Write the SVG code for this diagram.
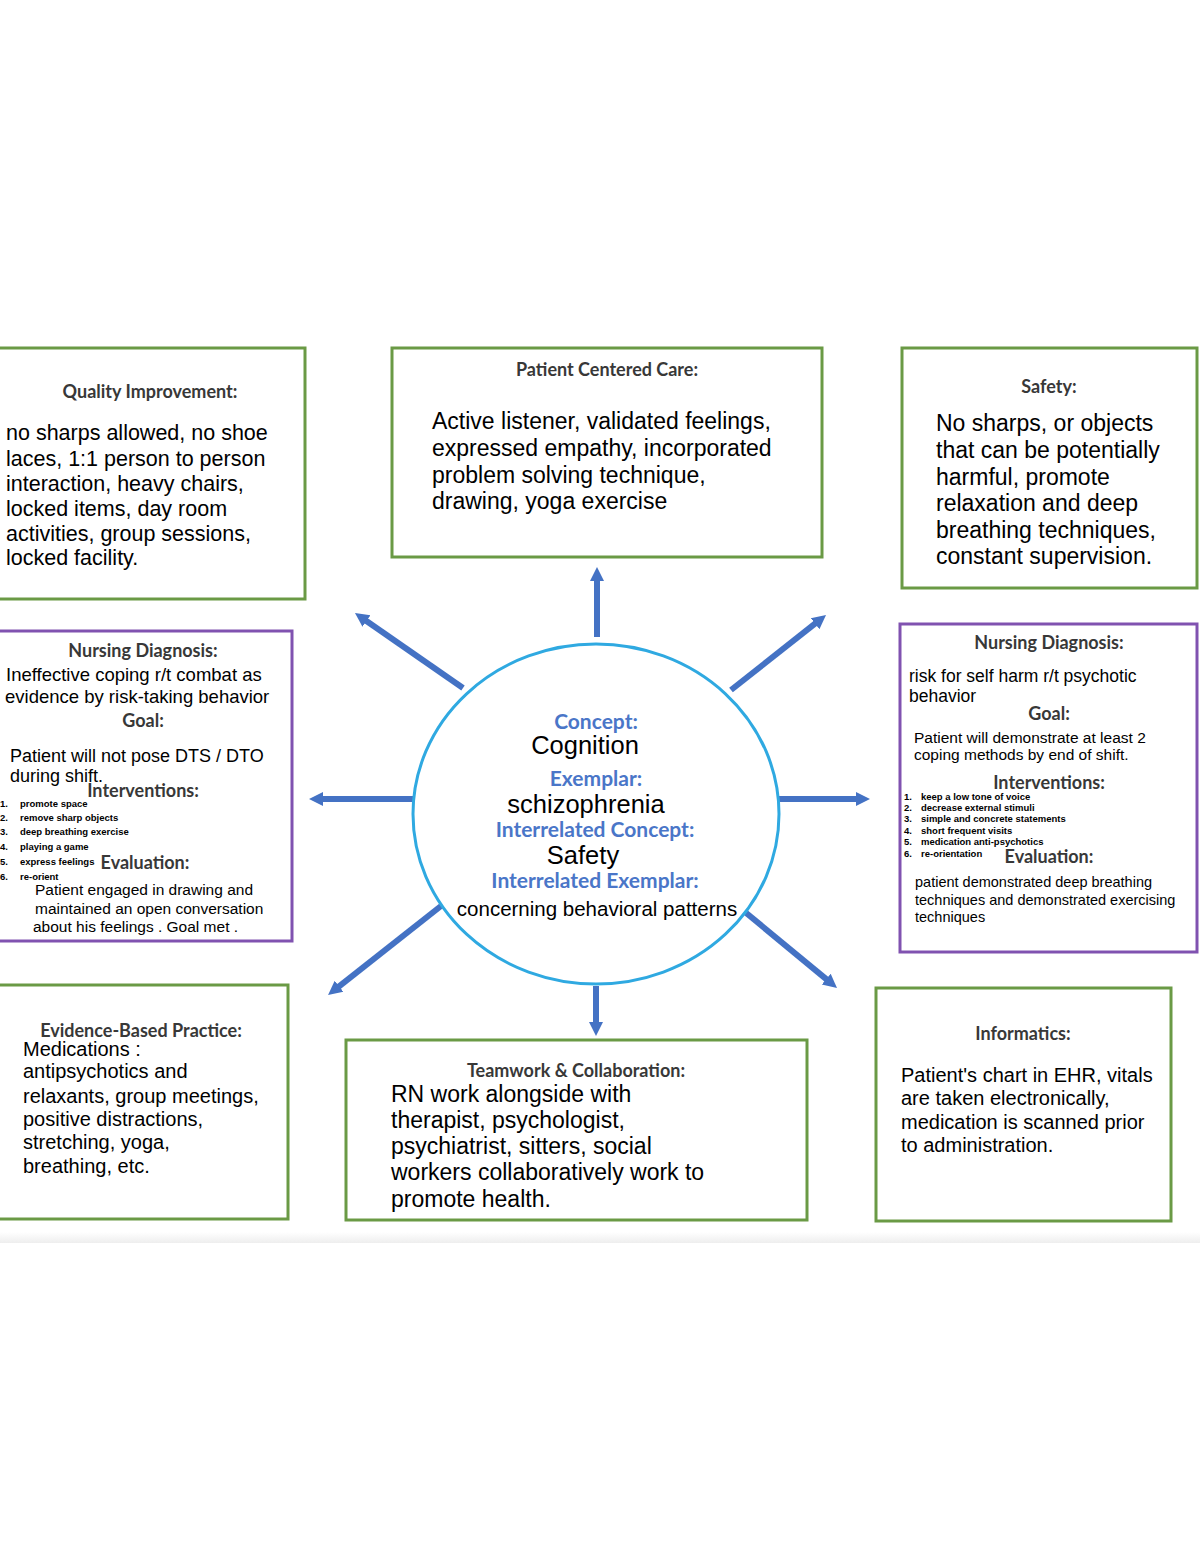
<svg xmlns="http://www.w3.org/2000/svg" width="1200" height="1551" viewBox="0 0 1200 1551">
<defs>
<style>
.gbox{fill:#ffffff;stroke:#6a9a45;stroke-width:3}
.pbox{fill:#ffffff;stroke:#8052b0;stroke-width:3}
.hd{font-family:Lato,"Liberation Sans",sans-serif;font-weight:700;fill:#383838;text-anchor:middle;font-size:18px}
.bd{font-family:"Liberation Sans",Arial,sans-serif;fill:#000000}
.bh{font-family:Lato,"Liberation Sans",sans-serif;font-weight:700;fill:#4a76c8;text-anchor:middle;font-size:21px}
.ct{font-family:"Liberation Sans",Arial,sans-serif;fill:#000000;text-anchor:middle}
.li{font-family:"Liberation Sans",Arial,sans-serif;font-weight:700;fill:#000000}
.arr{stroke:#4472c4;stroke-width:6;fill:none;marker-end:url(#ah)}
</style>
<marker id="ah" markerUnits="userSpaceOnUse" markerWidth="16" markerHeight="16" viewBox="0 0 16 16" refX="4" refY="8" orient="auto">
<path d="M0,1 L14,8 L0,15 z" fill="#4472c4"/>
</marker>
<linearGradient id="sh" x1="0" y1="0" x2="0" y2="1">
<stop offset="0" stop-color="#ffffff"/>
<stop offset="1" stop-color="#eeeeee"/>
</linearGradient>
</defs>
<rect x="0" y="0" width="1200" height="1551" fill="#ffffff"/>
<rect x="0" y="1232" width="1200" height="11" fill="url(#sh)"/>

<g id="connectors">
<line class="arr" x1="597" y1="637" x2="597" y2="577"/>
<line class="arr" x1="463" y1="688" x2="363.2" y2="618.7"/>
<line class="arr" x1="731" y1="690" x2="818.2" y2="621.2"/>
<line class="arr" x1="413" y1="799" x2="319" y2="799"/>
<line class="arr" x1="778" y1="799" x2="860" y2="799"/>
<line class="arr" x1="441" y1="906" x2="335.9" y2="988.8"/>
<line class="arr" x1="745" y1="912" x2="829.3" y2="981.6"/>
<line class="arr" x1="596" y1="986" x2="596" y2="1026"/>
</g>

<g id="center">
<ellipse cx="596" cy="814" rx="183" ry="170" fill="#ffffff" stroke="#2fa9e1" stroke-width="3"/>
<text class="bh" x="596" y="729">Concept:</text>
<text class="ct" x="585" y="754" font-size="25.5">Cognition</text>
<text class="bh" x="596" y="786">Exemplar:</text>
<text class="ct" x="586" y="813" font-size="25.5">schizophrenia</text>
<text class="bh" x="595" y="837">Interrelated Concept:</text>
<text class="ct" x="583" y="864" font-size="25.5">Safety</text>
<text class="bh" x="595" y="888">Interrelated Exemplar:</text>
<text class="ct" x="597" y="916" font-size="20.5">concerning behavioral patterns</text>
</g>

<g id="quality-improvement">
<rect class="gbox" x="-5" y="348" width="310" height="251"/>
<text class="hd" x="150" y="398">Quality Improvement:</text>
<text class="bd" font-size="21.5">
<tspan x="6" y="440">no sharps allowed, no shoe</tspan>
<tspan x="6" y="466">laces, 1:1 person to person</tspan>
<tspan x="6" y="491">interaction, heavy chairs,</tspan>
<tspan x="6" y="516">locked items, day room</tspan>
<tspan x="6" y="541">activities, group sessions,</tspan>
<tspan x="6" y="565">locked facility.</tspan>
</text>
</g>

<g id="patient-centered-care">
<rect class="gbox" x="392" y="348" width="430" height="209"/>
<text class="hd" x="607" y="376">Patient Centered Care:</text>
<text class="bd" font-size="23">
<tspan x="432" y="429">Active listener, validated feelings,</tspan>
<tspan x="432" y="456">expressed empathy, incorporated</tspan>
<tspan x="432" y="483">problem solving technique,</tspan>
<tspan x="432" y="509">drawing, yoga exercise</tspan>
</text>
</g>

<g id="safety">
<rect class="gbox" x="902" y="348" width="295" height="240"/>
<text class="hd" x="1049" y="393">Safety:</text>
<text class="bd" font-size="23">
<tspan x="936" y="431">No sharps, or objects</tspan>
<tspan x="936" y="458">that can be potentially</tspan>
<tspan x="936" y="485">harmful, promote</tspan>
<tspan x="936" y="511">relaxation and deep</tspan>
<tspan x="936" y="538">breathing techniques,</tspan>
<tspan x="936" y="564">constant supervision.</tspan>
</text>
</g>

<g id="nursing-diagnosis-left">
<rect class="pbox" x="-5" y="631" width="297" height="310"/>
<text class="hd" x="143" y="657">Nursing Diagnosis:</text>
<text class="bd" font-size="18.5">
<tspan x="6" y="681">Ineffective coping r/t combat as</tspan>
<tspan x="5" y="703">evidence by risk-taking behavior</tspan>
</text>
<text class="hd" x="143" y="727">Goal:</text>
<text class="bd" font-size="18">
<tspan x="10" y="762">Patient will not pose DTS / DTO</tspan>
<tspan x="10" y="782">during shift.</tspan>
</text>
<text class="li" font-size="9.5">
<tspan x="0" y="807">1.</tspan><tspan x="20" y="807">promote space</tspan>
<tspan x="0" y="821">2.</tspan><tspan x="20" y="821">remove sharp objects</tspan>
<tspan x="0" y="835">3.</tspan><tspan x="20" y="835">deep breathing exercise</tspan>
<tspan x="0" y="850">4.</tspan><tspan x="20" y="850">playing a game</tspan>
<tspan x="0" y="865">5.</tspan><tspan x="20" y="865">express feelings</tspan>
<tspan x="0" y="880">6.</tspan><tspan x="20" y="880">re-orient</tspan>
</text>
<text class="hd" x="143" y="797">Interventions:</text>
<text class="hd" x="145" y="869">Evaluation:</text>
<text class="bd" font-size="15.5">
<tspan x="35" y="895">Patient engaged in drawing and</tspan>
<tspan x="35" y="914">maintained an open conversation</tspan>
<tspan x="33" y="932">about his feelings . Goal met .</tspan>
</text>
</g>

<g id="nursing-diagnosis-right">
<rect class="pbox" x="900" y="624" width="297" height="328"/>
<text class="hd" x="1049" y="649">Nursing Diagnosis:</text>
<text class="bd" font-size="17.5">
<tspan x="909" y="682">risk for self harm r/t psychotic</tspan>
<tspan x="909" y="702">behavior</tspan>
</text>
<text class="hd" x="1049" y="720">Goal:</text>
<text class="bd" font-size="15.5">
<tspan x="914" y="743">Patient will demonstrate at least 2</tspan>
<tspan x="914" y="760">coping methods by end  of shift.</tspan>
</text>
<text class="li" font-size="9.5">
<tspan x="904" y="800">1.</tspan><tspan x="921" y="800">keep a low tone of voice</tspan>
<tspan x="904" y="811">2.</tspan><tspan x="921" y="811">decrease external stimuli</tspan>
<tspan x="904" y="822">3.</tspan><tspan x="921" y="822">simple and concrete statements</tspan>
<tspan x="904" y="834">4.</tspan><tspan x="921" y="834">short frequent visits</tspan>
<tspan x="904" y="845">5.</tspan><tspan x="921" y="845">medication anti-psychotics</tspan>
<tspan x="904" y="857">6.</tspan><tspan x="921" y="857">re-orientation</tspan>
</text>
<text class="hd" x="1049" y="789">Interventions:</text>
<text class="hd" x="1049" y="863">Evaluation:</text>
<text class="bd" font-size="14.5">
<tspan x="915" y="887">patient demonstrated deep breathing</tspan>
<tspan x="915" y="905">techniques and demonstrated exercising</tspan>
<tspan x="915" y="922">techniques</tspan>
</text>
</g>

<g id="evidence-based-practice">
<rect class="gbox" x="-5" y="985" width="293" height="234"/>
<text class="hd" x="141" y="1037">Evidence-Based Practice:</text>
<text class="bd" font-size="20">
<tspan x="23" y="1056">Medications :</tspan>
<tspan x="23" y="1078">antipsychotics and</tspan>
<tspan x="23" y="1103">relaxants, group meetings,</tspan>
<tspan x="23" y="1126">positive distractions,</tspan>
<tspan x="23" y="1149">stretching, yoga,</tspan>
<tspan x="23" y="1173">breathing, etc.</tspan>
</text>
</g>

<g id="teamwork-collaboration">
<rect class="gbox" x="346" y="1040" width="461" height="180"/>
<text class="hd" x="576" y="1077">Teamwork &amp; Collaboration:</text>
<text class="bd" font-size="23">
<tspan x="391" y="1102">RN work alongside with</tspan>
<tspan x="391" y="1128">therapist, psychologist,</tspan>
<tspan x="391" y="1154">psychiatrist, sitters, social</tspan>
<tspan x="391" y="1180">workers collaboratively work to</tspan>
<tspan x="391" y="1207">promote health.</tspan>
</text>
</g>

<g id="informatics">
<rect class="gbox" x="876" y="988" width="295" height="233"/>
<text class="hd" x="1023" y="1040">Informatics:</text>
<text class="bd" font-size="20">
<tspan x="901" y="1082">Patient's chart in EHR, vitals</tspan>
<tspan x="901" y="1105">are taken electronically,</tspan>
<tspan x="901" y="1129">medication is scanned prior</tspan>
<tspan x="901" y="1152">to administration.</tspan>
</text>
</g>
</svg>
